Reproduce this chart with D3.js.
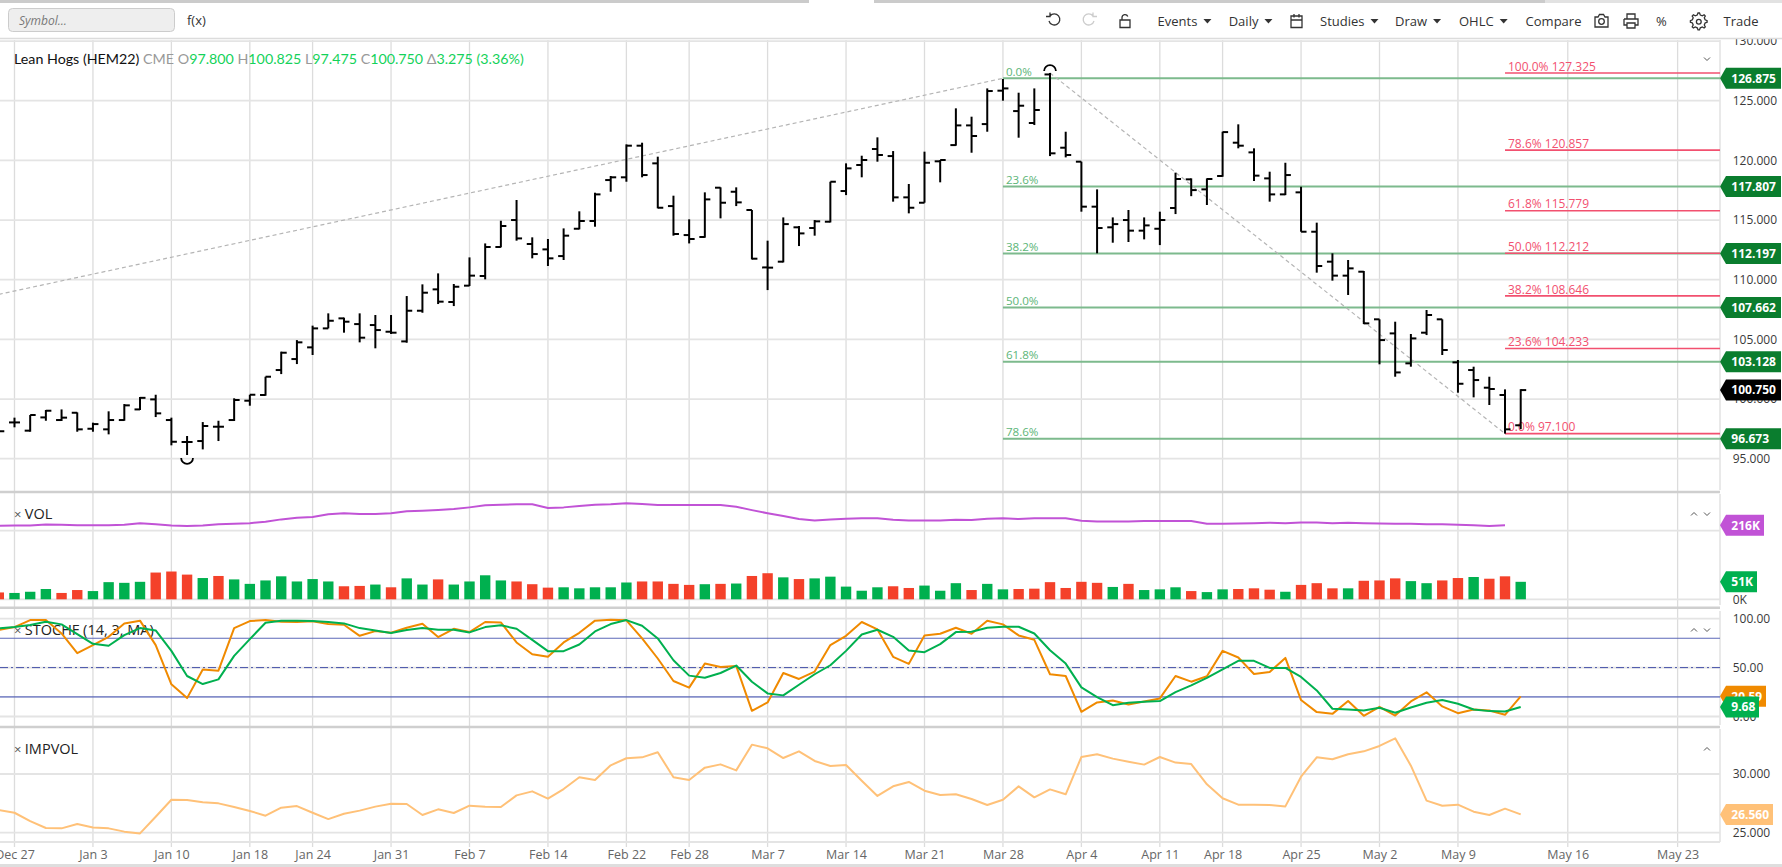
<!DOCTYPE html>
<html>
<head>
<meta charset="utf-8">
<title>Lean Hogs (HEM22)</title>
<script src="https://cdn.jsdelivr.net/npm/d3@7"></script>
<style>
  html, body { margin: 0; padding: 0; background: #fff; overflow: hidden; }
  svg { display: block; }
  text { font-family: 'Open Sans', sans-serif; }
</style>
</head>
<body>
<div id="chart"></div>
<script>
// trading sessions, then the calendar days the axis shows after the last bar
const sessions = [
  'Dec 23', 'Dec 27', 'Dec 28', 'Dec 29', 'Dec 30', 'Dec 31',
  'Jan 3', 'Jan 4', 'Jan 5', 'Jan 6', 'Jan 7',
  'Jan 10', 'Jan 11', 'Jan 12', 'Jan 13', 'Jan 14',
  'Jan 18', 'Jan 19', 'Jan 20', 'Jan 21',
  'Jan 24', 'Jan 25', 'Jan 26', 'Jan 27', 'Jan 28',
  'Jan 31', 'Feb 1', 'Feb 2', 'Feb 3', 'Feb 4',
  'Feb 7', 'Feb 8', 'Feb 9', 'Feb 10', 'Feb 11',
  'Feb 14', 'Feb 15', 'Feb 16', 'Feb 17', 'Feb 18',
  'Feb 22', 'Feb 23', 'Feb 24', 'Feb 25',
  'Feb 28', 'Mar 1', 'Mar 2', 'Mar 3', 'Mar 4',
  'Mar 7', 'Mar 8', 'Mar 9', 'Mar 10', 'Mar 11',
  'Mar 14', 'Mar 15', 'Mar 16', 'Mar 17', 'Mar 18',
  'Mar 21', 'Mar 22', 'Mar 23', 'Mar 24', 'Mar 25',
  'Mar 28', 'Mar 29', 'Mar 30', 'Mar 31', 'Apr 1',
  'Apr 4', 'Apr 5', 'Apr 6', 'Apr 7', 'Apr 8',
  'Apr 11', 'Apr 12', 'Apr 13', 'Apr 14',
  'Apr 18', 'Apr 19', 'Apr 20', 'Apr 21', 'Apr 22',
  'Apr 25', 'Apr 26', 'Apr 27', 'Apr 28', 'Apr 29',
  'May 2', 'May 3', 'May 4', 'May 5', 'May 6',
  'May 9', 'May 10', 'May 11', 'May 12', 'May 13',
  'May 14', 'May 15', 'May 16', 'May 17', 'May 18',
  'May 19', 'May 20', 'May 21', 'May 22', 'May 23',
];
const dateTicks = [
  'Dec 27', 'Jan 3', 'Jan 10', 'Jan 18', 'Jan 24', 'Jan 31', 'Feb 7', 'Feb 14',
  'Feb 22', 'Feb 28', 'Mar 7', 'Mar 14', 'Mar 21', 'Mar 28', 'Apr 4', 'Apr 11',
  'Apr 18', 'Apr 25', 'May 2', 'May 9', 'May 16', 'May 23',
];

const opens = [
  97.6, 98.04, 97.35, 98.46, 98.24, 98.85, 97.51, 97.46, 98.24, 99.13, 99.97,
  98.24, 96.4, 96.48, 97.68, 98.24, 99.86, 100.34, 102.43, 103.35, 104.33,
  105.92, 106.76, 106.28, 106.2, 105.64, 104.83, 107.4, 109.19, 108.13, 109.5,
  110.31, 112.74, 115, 112.99, 112.54, 111.98, 114.27, 114.92, 118.35, 118.58,
  121.23, 119.75, 116.17, 113.74, 113.58, 117.71, 117.37, 115.84, 111.03,
  111.51, 114.39, 114.33, 114.86, 117.43, 119.61, 120.95, 120.36, 116.9,
  116.45, 119.92, 121.28, 122.93, 123.04, 125.84, 124.13, 123.13, 127.2,
  121.06, 119.89, 116.12, 114.39, 115, 114.11, 114.27, 116.01, 118.41, 117.57,
  118.69, 121.48, 120.67, 118.49, 117.15, 117.32, 114.02, 111.51, 110.34,
  110.67, 106.68, 105.5, 102.99, 105.56, 106.68, 103.07, 102.43, 100.95,
  100.34, 97.8,
];
const highs = [
  97.9, 98.44, 98.66, 99.08, 99.13, 98.88, 98.02, 98.97, 99.58, 100.17, 100.36,
  98.44, 96.9, 98.07, 98.18, 100.06, 100.36, 101.87, 103.97, 104.94, 106.15,
  107.18, 106.82, 107.18, 107.04, 107.04, 108.63, 109.61, 110.53, 109.64,
  111.87, 113.04, 114.94, 116.68, 113.55, 113.41, 114.3, 115.73, 117.29,
  118.69, 121.34, 121.48, 120.31, 117.04, 115.06, 117.32, 117.74, 117.74,
  115.84, 113.27, 115.22, 114.5, 115, 118.21, 119.75, 120.39, 121.93, 120.78,
  118.02, 120.73, 120.03, 124.36, 123.66, 126.03, 126.82, 125.67, 126.03,
  127.325, 122.4, 119.89, 117.57, 115.22, 115.84, 115.22, 115.7, 118.97,
  118.49, 118.49, 122.4, 123.02, 121.01, 119.05, 119.8, 117.79, 114.78,
  112.21, 111.65, 110.73, 106.68, 106.48, 105.45, 107.46, 106.68, 103.27,
  102.71, 101.87, 100.81, 100.825,
];
const lows = [
  97.2, 97.63, 97.26, 98.18, 98.16, 97.26, 97.26, 97.04, 98.18, 99.08, 98.49,
  96.12, 95.31, 95.78, 96.48, 98.16, 99.44, 100.28, 102.09, 102.93, 103.69,
  105.92, 105.56, 104.75, 104.25, 105.45, 104.72, 107.23, 107.96, 107.79,
  109.47, 110.03, 112.71, 113.27, 111.79, 111.15, 111.65, 114.22, 114.44,
  117.37, 118.21, 118.58, 115.98, 113.69, 113.04, 113.52, 115.14, 116.17,
  111.7, 109.13, 111.45, 112.82, 113.69, 114.8, 117.09, 118.58, 119.89, 116.54,
  115.56, 116.45, 118.16, 121.23, 120.64, 122.4, 125, 121.9, 122.96, 120.36,
  120.25, 115.7, 112.21, 113.1, 113.16, 113.38, 112.9, 115.5, 117, 116.26,
  118.63, 121.01, 118.27, 116.54, 117.09, 114.02, 110.59, 109.92, 108.72,
  106.28, 102.91, 101.87, 102.71, 105.36, 103.69, 100.53, 100.14, 99.5, 97.1,
  97.475,
];
const closes = [
  97.3, 98.04, 98.66, 99.02, 98.44, 97.46, 97.9, 98.24, 99.47, 100.1, 98.8,
  96.42, 96.4, 97.74, 97.68, 99.92, 100.36, 101.87, 103.88, 104.75, 105.92,
  106.56, 106.48, 105.14, 105.78, 105.56, 107.4, 108.91, 108.16, 109.41,
  110.34, 112.74, 114.5, 113.46, 112.15, 111.79, 113.69, 114.92, 117.15,
  118.58, 121.23, 118.77, 116.03, 113.83, 113.41, 116.73, 116.45, 116.48,
  111.76, 111.01, 114.66, 113.88, 114.89, 118.21, 119.33, 120.03, 120.45,
  116.9, 116.03, 119.8, 120.03, 122.93, 122.04, 125.81, 126.03, 124.58,
  124.22, 120.59, 120.45, 116.12, 114.33, 114.66, 114.11, 114.55, 115, 118.44,
  117.51, 118.44, 122.37, 121.23, 118.72, 117.15, 118.77, 114.02, 111.15,
  110.34, 110.95, 106.34, 104.94, 102.23, 105.08, 107.04, 104.11, 101.28,
  101.59, 100.84, 97.46, 100.75,
];

// volume in thousands, u = green bar, d = red bar
const volumes = [
  20, 18.5, 22, 30, 18.5, 27, 24, 50, 48, 51, 78, 81, 72, 62, 68, 58, 45, 55,
  67, 52, 59, 52, 38, 39, 43, 35, 61, 43, 58, 43, 52, 70, 55, 52, 44, 34, 35,
  32, 35, 35, 49, 52, 52, 45, 42, 44, 45, 46, 68, 76, 64, 59, 61, 66, 37, 25,
  35, 38, 33, 40, 25, 47, 27, 45, 29, 30, 31, 50, 33, 51, 48, 36, 45, 27, 29,
  35, 24, 21, 29, 30, 32, 28, 22, 42, 47, 32, 32, 54, 55, 61, 53, 47, 55, 62,
  65, 60, 67, 51,
];
const volumeSides = [
  'd', 'u', 'u', 'u', 'd', 'd', 'u', 'u', 'u', 'u', 'd', 'd', 'd', 'u', 'd',
  'u', 'u', 'u', 'u', 'u', 'u', 'u', 'd', 'd', 'u', 'd', 'u', 'u', 'd', 'u',
  'u', 'u', 'u', 'd', 'd', 'd', 'u', 'u', 'u', 'u', 'u', 'd', 'd', 'd', 'd',
  'u', 'd', 'u', 'd', 'd', 'u', 'd', 'u', 'u', 'u', 'u', 'u', 'd', 'd', 'u',
  'u', 'u', 'd', 'u', 'u', 'd', 'd', 'd', 'd', 'd', 'd', 'u', 'd', 'u', 'u',
  'u', 'd', 'u', 'u', 'd', 'd', 'd', 'u', 'd', 'd', 'd', 'u', 'd', 'd', 'd',
  'u', 'u', 'd', 'd', 'u', 'd', 'd', 'u',
];
const volumeAverage = [
  214, 215, 215, 218, 217, 216, 216, 216, 217, 222, 219, 215, 214, 215, 219,
  220, 222, 226, 233, 238, 240, 248, 251, 249, 249, 251, 257, 258, 260, 263,
  268, 274, 276, 277, 277, 266, 268, 272, 276, 277, 280, 278, 275, 275, 275,
  275, 275, 270, 260, 251, 243, 234, 230, 233, 235, 236, 236, 232, 230, 230,
  230, 232, 231, 235, 236, 234, 236, 236, 236, 229, 227, 227, 227, 228, 228,
  228, 228, 220, 220, 221, 222, 223, 222, 224, 224, 222, 223, 222, 221, 220,
  220, 219, 219, 217, 216, 214, 216,
];

const stochK = [
  88.4, 91.4, 98.6, 98.6, 84.9, 64.7, 73, 81.5, 95.2, 98, 73, 32.9, 18.8, 48,
  46.9, 90.4, 97.6, 98.6, 96.9, 96.6, 97.3, 94.5, 93.8, 82.5, 87.3, 85.6, 90.8,
  94.9, 81.2, 89.7, 86.3, 96.6, 96.2, 75.7, 63.7, 61, 75.7, 85.6, 98,
  99, 98.3, 79.8, 59.3, 36.3, 29.5, 54.1, 50.7, 51.7, 5.8, 14.4, 44.5, 38.4,
  45.9, 73, 82.5, 96.6, 89, 61, 53.8, 82.9, 84.6, 90.8, 84.6, 98, 94.2, 82.9,
  78.4, 43.2, 41.4, 4.8, 14.4, 16.4, 12.3, 15.4, 18.5, 41.4, 35.6,
  41.1, 67.1, 60.3, 43.5, 45.6, 59.9, 16.8, 4.5, 2.7, 15.8, 0.7, 9.9, 1, 15.4,
  24.7, 10.3, 3.4, 7.2, 6.2, 1.7, 20.59,
];
const stochD = [
  90.1, 91.4, 93.5, 96.9, 94.2, 84.3, 74.3, 72.3, 83.2, 90.4, 88, 67.1, 41.4,
  33.2, 38, 62, 79.1, 95.9, 98, 98, 97.6, 96.6, 95.2, 90.4, 88, 85.3, 88.4,
  90.4, 88.7, 88.7, 86, 91.4, 93.2, 89.7, 78.4, 66.8, 66.8, 73.6, 87,
  94.5, 98.6, 92.8, 79.8, 57.5, 41.8, 39.7, 44.5, 52.1, 35.6, 23.6, 21.6, 32.5,
  43.2, 52.4, 67.1, 83.9, 88.7, 81.5, 67.5, 65.8, 74, 86.3, 86.7, 90.8, 91.8,
  91.8, 84.9, 67.8, 54.1, 29.8, 19.9, 11.6, 14, 15.1, 15.8, 25, 31.9,
  39.4, 48.3, 56.9, 56.9, 49.7, 49.7, 40.4, 26.7, 7.9, 7.2, 6.2, 8.9, 3.8, 9.2,
  14, 16.8, 13, 7.2, 5.5, 5.1, 9.68,
];

const impVol = [
  26.93, 26.7, 25.99, 25.4, 25.37, 25.74, 25.45, 25.37, 25.09, 24.94, 26.36,
  27.81, 27.78, 27.59, 27.5, 27.19, 26.85, 26.45, 27.13, 27.27, 26.7, 26.16,
  26.62, 26.88, 27.22, 27.47, 27.44, 26.51, 26.99, 26.68, 27.3, 27.22, 27.19,
  28.18, 28.52, 27.9, 28.72, 29.72, 29.49,
  30.74, 31.34, 31.42, 31.85, 29.72, 29.49, 30.54, 30.82, 30.31, 32.5, 32.19,
  31.36, 31.93, 31.11, 30.68, 30.77, 29.43, 28.13, 28.95, 29.32, 28.58, 28.21,
  28.27, 27.87, 27.36, 27.81, 28.95, 28.01, 28.69, 28.27, 31.45, 31.68, 31.31,
  31.05, 30.8, 31.45, 30.97, 30.85,
  29.12, 27.93, 27.39, 27.39, 27.36, 27.24, 29.77, 31.42, 31.25, 31.68, 31.93,
  32.39, 33.04, 30.71, 27.73, 27.3, 27.39, 26.79, 26.51, 27.05, 26.56,
];

const priceTicks = [130, 125, 120, 115, 110, 105, 100, 95];
const volumeTicks = [0, 200];
const stochTicks = [100, 50, 0];
const ivTicks = [30, 25];

const fibGreenLevels = [126.875, 117.807, 112.197, 107.662, 103.128, 96.673];
const fibGreenLabels = ['0.0%', '23.6%', '38.2%', '50.0%', '61.8%', '78.6%'];
const fibRedLevels = [127.325, 120.857, 115.779, 112.212, 108.646, 104.233, 97.1];
const fibRedLabels = ['100.0%', '78.6%', '61.8%', '50.0%', '38.2%', '23.6%', '0.0%'];

const width = 1782;
const height = 867;
const plotRight = 1720;
const barTick = 5.5;

const colors = {
  grid: '#e4e4e4',
  gridV: '#dcdcdc',
  separator: '#cfcfcf',
  up: '#00b04f',
  down: '#f4412a',
  fibGreen: '#7dba8d',
  fibGreenText: '#5cb578',
  fibRed: '#f2506f',
  tagGreen: '#0a7d2e',
  purple: '#c153d6',
  orange: '#f08a00',
  pale: '#ffc178',
  level: '#5c68b8',
  levelMid: '#4450a8',
  quote: '#14d25a',
  muted: '#999',
  axis: '#3a3a3a',
};

const x = d3.scalePoint().domain(sessions).range([-1.2, 1677.6]);
const yPrice = d3.scaleLinear([125, 95], [100.7, 458.7]);
const yVolume = d3.scaleLinear([0, 200], [599.3, 530.7]);
const yStoch = d3.scaleLinear([0, 100], [716.5, 618.7]);
const yIv = d3.scaleLinear([25, 30], [832.7, 774]);

const svg = d3
  .select('#chart')
  .append('svg')
  .attr('width', width)
  .attr('height', height)
  .attr('viewBox', [0, 0, width, height]);

// ---- grid ----
const grid = svg.append('g');

grid
  .selectAll('.v')
  .data(dateTicks)
  .join('line')
  .attr('x1', (d) => x(d))
  .attr('x2', (d) => x(d))
  .attr('y1', 40)
  .attr('y2', 847)
  .attr('stroke', colors.gridV)
  .attr('stroke-width', 1.3);

function hGrid(ticks, scale) {
  grid
    .append('g')
    .selectAll('line')
    .data(ticks)
    .join('line')
    .attr('x1', 0)
    .attr('x2', plotRight)
    .attr('y1', (d) => scale(d))
    .attr('y2', (d) => scale(d))
    .attr('stroke', colors.grid)
    .attr('stroke-width', 1.8);
}

hGrid(priceTicks, yPrice);
hGrid(volumeTicks, yVolume);
hGrid(stochTicks, yStoch);
hGrid(ivTicks, yIv);

// bottom rule of the chart, pane separators, price axis rule broken per pane
[[0, 842, plotRight, 842, colors.grid, 1.8],
  [0, 492, plotRight, 492, colors.separator, 2.4],
  [0, 607.8, plotRight, 607.8, colors.separator, 2.4],
  [0, 727, plotRight, 727, colors.separator, 2.4],
  [plotRight, 40, plotRight, 490, colors.grid, 1.6],
  [plotRight, 494, plotRight, 605, colors.grid, 1.6],
  [plotRight, 611, plotRight, 725, colors.grid, 1.6],
  [plotRight, 729, plotRight, 842, colors.grid, 1.6],
].forEach(([x1, y1, x2, y2, c, w]) => {
  grid.append('line').attr('x1', x1).attr('y1', y1).attr('x2', x2).attr('y2', y2)
    .attr('stroke', c).attr('stroke-width', w);
});

// ---- axes ----
function applyAxisStyle(g, color, size) {
  g.call((s) => s.select('.domain').remove());
  g.selectAll('text')
    .style('font-family', "'Open Sans', sans-serif")
    .style('font-size', size)
    .style('fill', color);
}

function rightAxis(scale, ticks, format) {
  const g = svg
    .append('g')
    .attr('transform', `translate(${plotRight},0)`)
    .call(
      d3.axisRight(scale).tickValues(ticks).tickSize(0).tickPadding(12.7).tickFormat(format),
    );
  applyAxisStyle(g, colors.axis, '12px');
}

rightAxis(yPrice, priceTicks, d3.format('.3f'));
rightAxis(yVolume, [0], (d) => `${d}K`);
rightAxis(yStoch, stochTicks, d3.format('.2f'));
rightAxis(yIv, ivTicks, d3.format('.3f'));

const gx = svg
  .append('g')
  .attr('transform', 'translate(0,847)')
  .call(d3.axisBottom(x).tickValues(dateTicks).tickSize(0).tickPadding(3));
applyAxisStyle(gx, '#666', '12.5px');

// ---- pane captions sit under the marks ----
const paneLabel = (label, y) => {
  const t = svg.append('text').attr('x', 14).attr('y', y).attr('dy', '0.36em')
    .attr('font-size', 14.5).attr('fill', '#222');
  t.append('tspan').attr('fill', '#555').attr('font-size', 13).text('× ');
  t.append('tspan').text(label);
};
paneLabel('VOL', 514);
paneLabel('STOCHF (14, 3, MA)', 630);
paneLabel('IMPVOL', 749);

// ---- fibonacci retracements ----
const fib = svg.append('g');

fib
  .selectAll('line.green')
  .data(fibGreenLevels)
  .join('line')
  .attr('x1', x('Mar 28'))
  .attr('x2', plotRight)
  .attr('y1', (d) => yPrice(d))
  .attr('y2', (d) => yPrice(d))
  .attr('stroke', colors.fibGreen)
  .attr('stroke-width', 2);

fib
  .append('g')
  .selectAll('text')
  .data(fibGreenLevels)
  .join('text')
  .attr('x', x('Mar 28') + 3)
  .attr('y', (d) => yPrice(d) - 2.3)
  .attr('font-size', 11.6)
  .attr('fill', colors.fibGreenText)
  .text((d, i) => fibGreenLabels[i]);

fib
  .append('g')
  .selectAll('line')
  .data(fibRedLevels)
  .join('line')
  .attr('x1', x('May 12'))
  .attr('x2', plotRight)
  .attr('y1', (d) => yPrice(d))
  .attr('y2', (d) => yPrice(d))
  .attr('stroke', colors.fibRed)
  .attr('stroke-width', 1.6);

fib
  .append('g')
  .selectAll('text')
  .data(fibRedLevels)
  .join('text')
  .attr('x', x('May 12') + 3)
  .attr('y', (d) => yPrice(d) - 2.3)
  .attr('font-size', 12)
  .attr('fill', colors.fibRed)
  .text((d, i) => `${fibRedLabels[i]} ${d3.format('.3f')(d)}`);

// ---- trend lines ----
const trendLine = d3.line().x((d) => x(d[0])).y((d) => yPrice(d[1]));
const trendUp = [['Dec 23', 108.77], ['Mar 28', 126.875]];
const trendDown = [['Mar 31', 127.325], ['May 12', 97.1]];

svg
  .append('g')
  .selectAll('path')
  .data([trendUp, trendDown])
  .join('path')
  .attr('d', trendLine)
  .attr('fill', 'none')
  .attr('stroke', '#b5b5b5')
  .attr('stroke-width', 1.2)
  .attr('stroke-dasharray', '4 3');

// ---- price bars ----
const barDays = sessions.slice(0, closes.length);
const bars = svg
  .append('g')
  .attr('stroke', '#000')
  .attr('stroke-width', 2)
  .selectAll('g')
  .data(barDays)
  .join('g');

bars
  .append('line')
  .attr('x1', (d) => x(d))
  .attr('x2', (d) => x(d))
  .attr('y1', (d, i) => yPrice(highs[i]))
  .attr('y2', (d, i) => yPrice(lows[i]));
bars
  .append('line')
  .attr('x1', (d) => x(d) - barTick)
  .attr('x2', (d) => x(d))
  .attr('y1', (d, i) => yPrice(opens[i]))
  .attr('y2', (d, i) => yPrice(opens[i]));
bars
  .append('line')
  .attr('x1', (d) => x(d))
  .attr('x2', (d) => x(d) + barTick)
  .attr('y1', (d, i) => yPrice(closes[i]))
  .attr('y2', (d, i) => yPrice(closes[i]));

// swing high and swing low markers
const swingArc = d3.arc().innerRadius(5).outerRadius(6.8);
const swingHigh = barDays.indexOf('Mar 31');
const swingLow = barDays.indexOf('Jan 11');
svg
  .append('path')
  .attr('d', swingArc({ startAngle: -Math.PI / 2, endAngle: Math.PI / 2 }))
  .attr('transform', `translate(${x('Mar 31')},${yPrice(highs[swingHigh]) - 2})`);
svg
  .append('path')
  .attr('d', swingArc({ startAngle: Math.PI / 2, endAngle: (3 * Math.PI) / 2 }))
  .attr('transform', `translate(${x('Jan 11')},${yPrice(lows[swingLow]) + 3})`);

// ---- volume pane ----
svg
  .append('g')
  .selectAll('rect')
  .data(barDays)
  .join('rect')
  .attr('x', (d) => x(d) - 5.2)
  .attr('width', 10.4)
  .attr('y', (d, i) => yVolume(volumes[i]))
  .attr('height', (d, i) => yVolume(0) - yVolume(volumes[i]))
  .attr('fill', (d, i) => (volumeSides[i] === 'u' ? colors.up : colors.down));

function seriesLine(values, scale, color) {
  const line = d3
    .line()
    .x((d, i) => x(sessions[i]))
    .y((d) => scale(d));
  svg
    .append('path')
    .attr('d', line(values))
    .attr('fill', 'none')
    .attr('stroke', color)
    .attr('stroke-width', 2)
    .attr('stroke-linejoin', 'round');
}

seriesLine(volumeAverage, yVolume, colors.purple);

// ---- stochastics pane ----
const levels = svg.append('g');
[80, 20].forEach((d, i) => {
  levels
    .append('line')
    .attr('x1', 0)
    .attr('x2', plotRight)
    .attr('y1', yStoch(d))
    .attr('y2', yStoch(d))
    .attr('stroke', colors.level)
    .attr('stroke-opacity', i === 0 ? 1 : 0.75)
    .attr('stroke-width', i === 0 ? 1.2 : 1.8);
});
levels
  .append('line')
  .attr('x1', 0)
  .attr('x2', plotRight)
  .attr('y1', yStoch(50))
  .attr('y2', yStoch(50))
  .attr('stroke', colors.levelMid)
  .attr('stroke-width', 1)
  .attr('stroke-dasharray', '8 3 2 3');

seriesLine(stochK, yStoch, colors.orange);
seriesLine(stochD, yStoch, colors.up);

// ---- implied volatility pane ----
seriesLine(impVol, yIv, colors.pale);

// ---- value tags on the price axis ----
function valueTag(y, right, fill, label) {
  const p = d3.path();
  p.moveTo(plotRight, y);
  p.lineTo(plotRight + 6, y - 10.5);
  p.lineTo(right, y - 10.5);
  p.lineTo(right, y + 10.5);
  p.lineTo(plotRight + 6, y + 10.5);
  p.closePath();
  const g = svg.append('g');
  g.append('path').attr('d', p.toString()).attr('fill', fill);
  g.append('text')
    .attr('x', plotRight + 11.3)
    .attr('y', y)
    .attr('dy', '0.36em')
    .attr('font-size', 12)
    .attr('font-weight', 700)
    .attr('fill', '#fff')
    .text(label);
}

fibGreenLevels.forEach((d) => {
  valueTag(yPrice(d), 1781, colors.tagGreen, d3.format('.3f')(d));
});
valueTag(yPrice(closes[closes.length - 1]), 1781, '#000', d3.format('.3f')(closes[closes.length - 1]));
valueTag(yVolume(volumeAverage[volumeAverage.length - 1]), 1764, colors.purple, '216K');
valueTag(yVolume(volumes[volumes.length - 1]), 1757, colors.up, '51K');
valueTag(yStoch(stochK[stochK.length - 1]), 1766, colors.orange, d3.format('.2f')(stochK[stochK.length - 1]));
valueTag(yStoch(stochD[stochD.length - 1]), 1759, colors.up, d3.format('.2f')(stochD[stochD.length - 1]));
valueTag(yIv(impVol[impVol.length - 1]), 1773, colors.pale, d3.format('.3f')(impVol[impVol.length - 1]));

// pane collapse carets
function caret(cx, cy, up) {
  const d = up ? -1 : 1;
  svg
    .append('path')
    .attr('d', d3.line()([[cx - 3, cy - 1.5 * d], [cx, cy + 1.5 * d], [cx + 3, cy - 1.5 * d]]))
    .attr('fill', 'none')
    .attr('stroke', '#555')
    .attr('stroke-width', 1);
}
caret(1707, 59, false);
caret(1694, 514, true);
caret(1707, 514, false);
caret(1694, 630, true);
caret(1707, 630, false);
caret(1707, 749, true);

// ---- toolbar ----
const bar = svg.append('g');
bar.append('rect').attr('width', width).attr('height', 38).attr('fill', '#fff');
bar.append('rect').attr('width', 809).attr('height', 3).attr('fill', '#cbcbcb');
bar.append('rect').attr('x', 874).attr('width', 671).attr('height', 3).attr('fill', '#cbcbcb');
bar.append('rect').attr('x', 1545).attr('width', 237).attr('height', 3).attr('fill', '#e2e2e2');
bar.append('line').attr('x1', 0).attr('x2', width).attr('y1', 38.5).attr('y2', 38.5)
  .attr('stroke', '#dcdcdc').attr('stroke-width', 1.4);
bar.append('rect').attr('x', 8.5).attr('y', 8.5).attr('width', 166).attr('height', 23).attr('rx', 4)
  .attr('fill', '#eee').attr('stroke', '#ccc');
bar.append('text').attr('x', 19).attr('y', 25).attr('font-size', 12).attr('font-style', 'italic')
  .attr('fill', '#777').text('Symbol...');
bar.append('text').attr('x', 187).attr('y', 25).attr('font-size', 13).attr('fill', '#333').text('f(x)');

const menuItems = [
  ['Events', 1157.6, true], ['Daily', 1228.7, true], ['Studies', 1320, true],
  ['Draw', 1395, true], ['OHLC', 1459, true], ['Compare', 1525.6, false],
  ['%', 1656, false], ['Trade', 1723.5, false],
];
menuItems.forEach(([label, left, hasMenu]) => {
  const t = bar.append('text').attr('x', left).attr('y', 25.5).attr('font-size', 13)
    .attr('fill', '#333').text(label);
  if (hasMenu) {
    const w = t.node().getComputedTextLength();
    bar.append('path')
      .attr('d', `M${left + w + 6},19 h8 l-4,4.5 z`)
      .attr('fill', '#333');
  }
});

// toolbar icons
const iconStroke = (d, c = '#333') => bar.append('path').attr('d', d).attr('fill', 'none')
  .attr('stroke', c).attr('stroke-width', 1.3);
iconStroke('M1050,16 a5.5,5.5 0 1 1 -1,5 M1050,12.5 v4 h-4');
iconStroke('M1093,16 a5.5,5.5 0 1 0 1,5 M1093,12.5 v4 h4', '#ccc');
iconStroke('M1120,20 h10 v7.5 h-10 z M1122,20 v-2.5 a3,3 0 0 1 5.8,-1');
iconStroke('M1291,16 h11 v11.5 h-11 z M1291,20 h11 M1294,14 v3.5 M1299,14 v3.5');
iconStroke('M1595,17 h3 l1.5,-2.5 h4 l1.5,2.5 h3 v10 h-13 z');
bar.append('circle').attr('cx', 1601.5).attr('cy', 21.5).attr('r', 2.8).attr('fill', 'none')
  .attr('stroke', '#333').attr('stroke-width', 1.3);
iconStroke('M1627,19 v-5 h8 v5 M1624,19 h14 v6 h-3 M1627,25 h-3 v-6 M1627,23 h8 v5 h-8 z');
iconStroke('M1698,14.5 l1.5,0 l.8,2 l2,.8 l1.8,-1 l1.2,1.2 l-1,1.8 l.8,2 l2,.8 v1.6 l-2,.8 l-.8,2 l1,1.8 l-1.2,1.2 l-1.8,-1 l-2,.8 l-.8,2 h-1.5 l-.8,-2 l-2,-.8 l-1.8,1 l-1.2,-1.2 l1,-1.8 l-.8,-2 l-2,-.8 v-1.6 l2,-.8 l.8,-2 l-1,-1.8 l1.2,-1.2 l1.8,1 l2,-.8 z')
  .attr('transform', 'translate(0,-1.5) ');
bar.append('circle').attr('cx', 1698.8).attr('cy', 21.8).attr('r', 2.4).attr('fill', 'none')
  .attr('stroke', '#333').attr('stroke-width', 1.3);

// quote line
const quote = svg.append('text').attr('x', 14).attr('y', 64)
  .style('font-family', "Lato, sans-serif").attr('font-size', 14.25);
const quoteParts = [
  ['Lean Hogs (HEM22) ', '#111'], ['CME ', colors.muted],
  ['O', colors.muted], ['97.800 ', colors.quote],
  ['H', colors.muted], ['100.825 ', colors.quote],
  ['L', colors.muted], ['97.475 ', colors.quote],
  ['C', colors.muted], ['100.750 ', colors.quote],
  ['Δ', colors.muted], ['3.275 (3.36%)', colors.quote],
];
quoteParts.forEach(([text, fill]) => {
  quote.append('tspan').attr('fill', fill).text(text);
});

// bottom page edge
svg.append('rect').attr('y', 864).attr('width', width).attr('height', 3).attr('fill', '#dedede');
</script>
</body>
</html>
